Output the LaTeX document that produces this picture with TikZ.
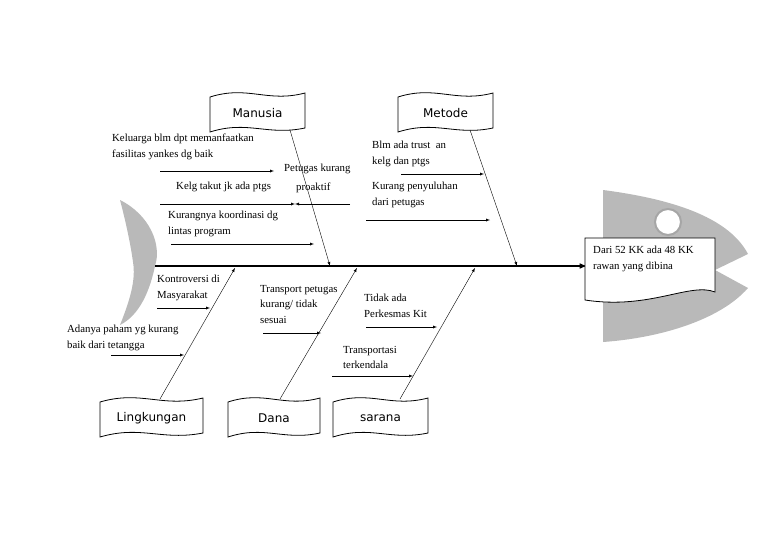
\documentclass[tikz,border=0pt]{standalone}
\usepackage{fontspec}
\setmainfont{Liberation Serif}
\newfontfamily\titlefont{DejaVu Sans}
\begin{document}
\begin{tikzpicture}[x=1pt, y=-1pt, >=latex,
    note/.style={anchor=north west, inner sep=0pt, align=left,
      font=\fontsize{10.8}{15.5}\selectfont},
    cause/.style={->, thin},
    bone/.style={->, thin},
    title/.style={font=\titlefont\fontsize{12}{13}\selectfont}]
  \useasboundingbox (0,0) rectangle (768,543);

  % head and tail
  \fill[gray!55] (603,190) .. controls (680,200) and (730,220) .. (748,254)
     -- (715,270) -- (748,288) .. controls (720,320) and (660,338) .. (603,342) -- cycle;
  \draw[gray!70, line width=2pt, fill=white] (668,222) circle (13);
  \fill[gray!55] (120,200) .. controls (150,215) and (162,245) .. (155,266)
     .. controls (150,290) and (140,315) .. (120,325)
     .. controls (130,300) and (136,280) .. (133,262)
     .. controls (130,240) and (124,215) .. (120,200) -- cycle;

  % spine and effect
  \draw[line width=1.5pt, ->] (155,266) -- (587,266);
  \draw[fill=white, line width=0.8pt] (585,238) -- (715,238) -- (715,292)
     .. controls (690,282) and (650,310) .. (585,300) -- cycle;
  \node[note] (effect) at (593,246) {Dari 52 KK ada 48 KK\\rawan yang dibina};

  % category flags
  \foreach \nm/\x/\y/\w/\txt in {man/210/93/95/Manusia, met/398/93/95/Metode,
      lin/100/398/103/Lingkungan, dan/228/398/92/Dana, sar/333/398/95/sarana} {
    \draw[fill=white, line width=0.8pt] (\x,\y+4) .. controls (\x+\w*0.4,\y-8) and (\x+\w*0.6,\y+10) .. (\x+\w,\y)
       -- (\x+\w,\y+35) .. controls (\x+\w*0.6,\y+43) and (\x+\w*0.4,\y+27) .. (\x,\y+39) -- cycle;
    \node[title] (\nm) at (\x+\w/2,\y+20) {\txt};
  }

  % bones
  \coordinate (s1) at (330,266);
  \coordinate (s2) at (517,266);
  \coordinate (s3) at (235,268);
  \coordinate (s4) at (357,268);
  \coordinate (s5) at (475,268);
  \coordinate (b1) at (290,130);
  \coordinate (b2) at (470,130);
  \coordinate (b3) at (160,399);
  \coordinate (b4) at (280,399);
  \coordinate (b5) at (400,399);
  \draw[bone] (b1) -- (s1);
  \draw[bone] (b2) -- (s2);
  \draw[bone] (b3) -- (s3);
  \draw[bone] (b4) -- (s4);
  \draw[bone] (b5) -- (s5);

  % causes
  \node[note] (c1) at (112,134) {Keluarga blm dpt memanfaatkan\\fasilitas yankes dg baik};
  \coordinate (c1a) at (160,171); \coordinate (c1b) at (274,171);
  \draw[cause] (c1a) -- (c1b);
  \node[note] (c2) at (176,182) {Kelg takut jk ada ptgs};
  \coordinate (c2a) at (160,204); \coordinate (c2b) at (295,204);
  \draw[cause] (c2a) -- (c2b);
  \node[note] (c3) at (284,164) {Petugas kurang};
  \node[note] (c3b) at (296,183) {proaktif};
  \coordinate (c3a) at (350,204);
  \draw[cause] (c3a) -- (c2b);
  \node[note] (c4) at (168,211) {Kurangnya koordinasi dg\\lintas program};
  \coordinate (c4a) at (171,244); \coordinate (c4b) at (314,244);
  \draw[cause] (c4a) -- (c4b);

  \node[note] (c5) at (372,141) {Blm ada trust\ \ an\\kelg dan ptgs};
  \coordinate (c5a) at (401,174); \coordinate (c5b) at (484,174);
  \draw[cause] (c5a) -- (c5b);
  \node[note] (c6) at (372,182) {Kurang penyuluhan\\dari petugas};
  \coordinate (c6a) at (366,220); \coordinate (c6b) at (490,220);
  \draw[cause] (c6a) -- (c6b);

  \node[note] (c7) at (157,275) {Kontroversi di\\Masyarakat};
  \coordinate (c7a) at (157,308); \coordinate (c7b) at (210,308);
  \draw[cause] (c7a) -- (c7b);
  \node[note] (c8) at (67,325) {Adanya paham yg kurang\\baik dari tetangga};
  \coordinate (c8a) at (111,355); \coordinate (c8b) at (184,355);
  \draw[cause] (c8a) -- (c8b);

  \node[note] (c9) at (260,285) {Transport petugas\\kurang/ tidak\\sesuai};
  \coordinate (c9a) at (263,333); \coordinate (c9b) at (321,333);
  \draw[cause] (c9a) -- (c9b);

  \node[note] (c10) at (364,294) {Tidak ada\\Perkesmas Kit};
  \coordinate (c10a) at (366,327); \coordinate (c10b) at (437,327);
  \draw[cause] (c10a) -- (c10b);
  \node[note] (c11) at (343,346) {Transportasi\\terkendala};
  \coordinate (c11a) at (332,376); \coordinate (c11b) at (413,376);
  \draw[cause] (c11a) -- (c11b);
\end{tikzpicture}
\end{document}
